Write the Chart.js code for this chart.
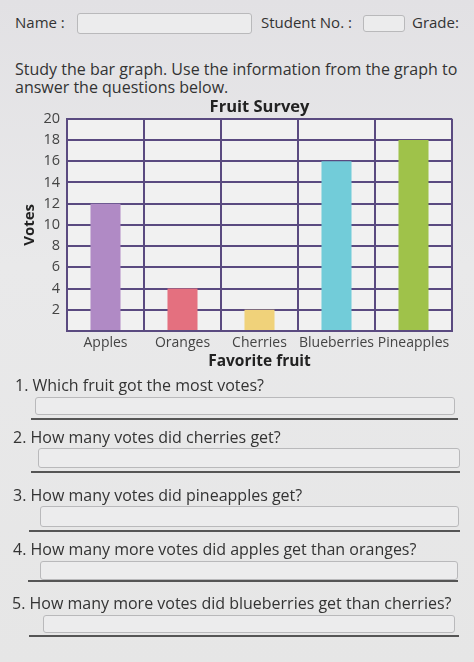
<!DOCTYPE html>
<html>
<head>
<meta charset="utf-8">
<script src="https://cdn.jsdelivr.net/npm/chart.js@4"></script>
<style>
  body { margin: 0; width: 474px; height: 662px; overflow: hidden;
         background: linear-gradient(180deg, #e2e1e4 0%, #e9e9ea 40%, #e6e6e6 100%);
         font-family: "Open Sans", sans-serif; color: #333; position: relative; }
  .t { position: absolute; white-space: nowrap; font-size: 15px; line-height: 18px; }
  .q { font-size: 16px; }
  .box { position: absolute; border: 1px solid #b9b9bb; border-radius: 3px; background: #ececed; box-sizing: border-box; }
  .line { position: absolute; height: 2px; background: #555; }
  #wrap { position: absolute; left: 0; top: 95px; width: 474px; height: 280px; }
</style>
</head>
<body>
<div class="t" style="left:15px;top:13px;">Name :</div>
<div class="box" style="left:77px;top:13px;width:175px;height:21px;"></div>
<div class="t" style="left:261px;top:13px;">Student No. :</div>
<div class="box" style="left:363px;top:15px;width:42px;height:17px;"></div>
<div class="t" style="left:412px;top:13px;">Grade:</div>

<div class="t q" style="left:15px;top:60px;">Study the bar graph. Use the information from the graph to</div>
<div class="t q" style="left:15px;top:78px;">answer the questions below.</div>

<div id="wrap"><canvas id="fruitChart"></canvas></div>

<div class="t q" style="left:15px;top:376px;">1. Which fruit got the most votes?</div>
<div class="box" style="left:35px;top:397px;width:420px;height:18px;"></div>
<div class="line" style="left:31px;top:418px;width:427px;"></div>

<div class="t q" style="left:13px;top:428px;">2. How many votes did cherries get?</div>
<div class="box" style="left:38px;top:448px;width:422px;height:20px;"></div>
<div class="line" style="left:31px;top:471px;width:429px;"></div>

<div class="t q" style="left:13px;top:486px;">3. How many votes did pineapples get?</div>
<div class="box" style="left:40px;top:506px;width:419px;height:21px;"></div>
<div class="line" style="left:29px;top:530px;width:431px;"></div>

<div class="t q" style="left:13px;top:540px;">4. How many more votes did apples get than oranges?</div>
<div class="box" style="left:40px;top:561px;width:418px;height:19px;"></div>
<div class="line" style="left:28px;top:580px;width:430px;"></div>

<div class="t q" style="left:12px;top:594px;">5. How many more votes did blueberries get than cherries?</div>
<div class="box" style="left:43px;top:615px;width:412px;height:18px;"></div>
<div class="line" style="left:29px;top:635px;width:430px;"></div>

<script>
const fruits = ['Apples', 'Oranges', 'Cherries', 'Blueberries', 'Pineapples'];
const votes = [12, 4, 2, 16, 18];
const barColors = ['#b08ac5', '#e4707f', '#f0d27a', '#72ccd9', '#9fc24a'];
const voteTicks = [2, 4, 6, 8, 10, 12, 14, 16, 18, 20];

const gridPurple = '#5a4a80';

// light panel behind the plot
const plotBg = {
  id: 'plotBg',
  beforeDraw(chart) {
    const a = chart.chartArea;
    const ctx = chart.ctx;
    ctx.save();
    ctx.fillStyle = '#f1f1f1';
    ctx.fillRect(a.left, a.top, a.right - a.left, a.bottom - a.top);
    ctx.restore();
  }
};

new Chart(document.getElementById('fruitChart'), {
  type: 'bar',
  data: {
    labels: fruits,
    datasets: [{
      label: 'Votes',
      data: votes,
      backgroundColor: barColors,
      borderWidth: 0,
      barPercentage: 0.39,
      categoryPercentage: 1
    }]
  },
  options: {
    responsive: true,
    maintainAspectRatio: false,
    animation: false,
    layout: { padding: { left: 0, right: 22, top: 0, bottom: 0 } },
    plugins: {
      legend: { display: false },
      tooltip: { enabled: false },
      title: {
        display: true,
        text: 'Fruit Survey',
        fullSize: false,
        color: '#222',
        font: { family: 'Open Sans', size: 16.5, weight: 'bold' },
        padding: { top: 2, bottom: 2 }
      }
    },
    scales: {
      x: {
        grid: { color: gridPurple, lineWidth: 2, drawTicks: false, offset: true },
        border: { color: gridPurple, width: 2 },
        ticks: {
          color: '#444', padding: 4, maxRotation: 0, minRotation: 0, autoSkip: false,
          font: { family: 'Open Sans', size: 14 }
        },
        title: {
          display: true, text: 'Favorite fruit', color: '#222',
          font: { family: 'Open Sans', size: 15.5, weight: 'bold' },
          padding: { top: 4, bottom: 4 }
        },
        afterFit: s => { s.height = 44; }
      },
      y: {
        min: 0,
        max: 20,
        afterBuildTicks: s => { s.ticks = [0].concat(voteTicks).map(v => ({ value: v })); },
        grid: { color: gridPurple, lineWidth: 2, drawTicks: false },
        border: { color: gridPurple, width: 2 },
        ticks: {
          color: '#444', padding: 7,
          font: { family: 'Open Sans', size: 14.5 },
          callback: v => (voteTicks.includes(v) ? String(v) : '')
        },
        title: {
          display: true, text: 'Votes', color: '#222',
          font: { family: 'Open Sans', size: 15, weight: 'bold' },
          padding: { top: 21, bottom: 0 }
        },
        afterFit: s => { s.width = 67; }
      }
    }
  },
  plugins: [plotBg]
});
</script>
</body>
</html>
